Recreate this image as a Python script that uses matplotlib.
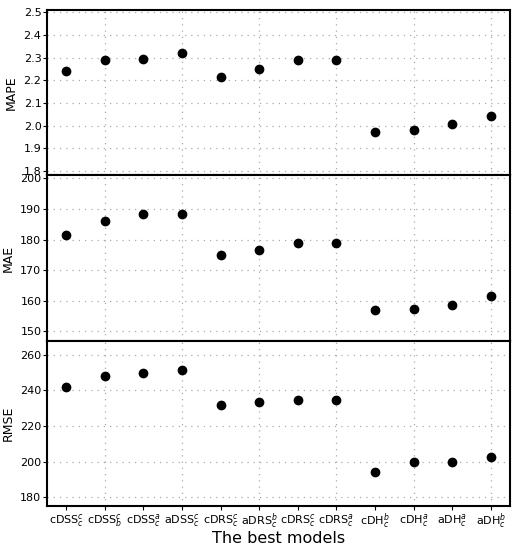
import matplotlib
matplotlib.use('Agg')
import matplotlib.pyplot as plt

labels = [r'cDSS$^c_c$', r'cDSS$^c_b$', r'cDSS$^a_c$', r'aDSS$^c_c$', r'cDRS$^c_c$', r'aDRS$^b_c$',
          r'cDRS$^c_c$', r'cDRS$^a_c$', r'cDH$^b_c$', r'cDH$^a_c$', r'aDH$^a_c$', r'aDH$^b_c$']
mape = [2.24, 2.29, 2.295, 2.32, 2.215, 2.25, 2.29, 2.29, 1.97, 1.98, 2.005, 2.04]
mae = [181.5, 186, 188.5, 188.5, 175, 176.5, 179, 179, 157, 157.5, 158.5, 161.5]
rmse = [242, 248, 250, 251.5, 232, 233.5, 234.5, 234.5, 194, 199.5, 199.5, 202.5]

fig = plt.figure(figsize=(5.19, 5.5), dpi=100)
x = list(range(1, 13))
specs = [('MAPE', mape, (1.78, 2.51), [1.8,1.9,2.0,2.1,2.2,2.3,2.4,2.5], '%.1f'),
         ('MAE', mae, (147, 201), [150,160,170,180,190,200], '%d'),
         ('RMSE', rmse, (175, 268), [180,200,220,240,260], '%d')]
top, bot = 1-10/550, 1-506/550
h = (top-bot)/3
for i, (name, vals, yl, ticks, fmt) in enumerate(specs):
    ax = fig.add_axes([47/519, top-(i+1)*h, 463/519, h])
    ax.set_xlim(0.5, 12.5)
    ax.set_ylim(*yl)
    ax.set_yticks(ticks)
    ax.set_yticklabels([fmt % t for t in ticks], fontsize=8)
    for t in ticks:
        ax.axhline(t, color='#aaaaaa', ls=(0, (1, 4)), lw=0.9, zorder=0)
    for gx in range(2, 13, 2):
        ax.axvline(gx, color='#aaaaaa', ls=(0, (1, 4)), lw=0.9, zorder=0)
    ax.plot(x, vals, 'o', color='black', ms=6, zorder=3)
    ax.set_ylabel(name, fontsize=9)
    for s in ax.spines.values():
        s.set_linewidth(1.5)
    ax.tick_params(axis='y', length=3, pad=1)
    ax.set_xticks(x)
    if i < 2:
        ax.tick_params(axis='x', length=0, labelbottom=False)
    else:
        ax.set_xticklabels(labels, fontsize=8)
        ax.tick_params(axis='x', length=3, pad=1)
        ax.set_xlabel('The best models', fontsize=11.5, labelpad=0)
fig.savefig('out.png', dpi=100)
